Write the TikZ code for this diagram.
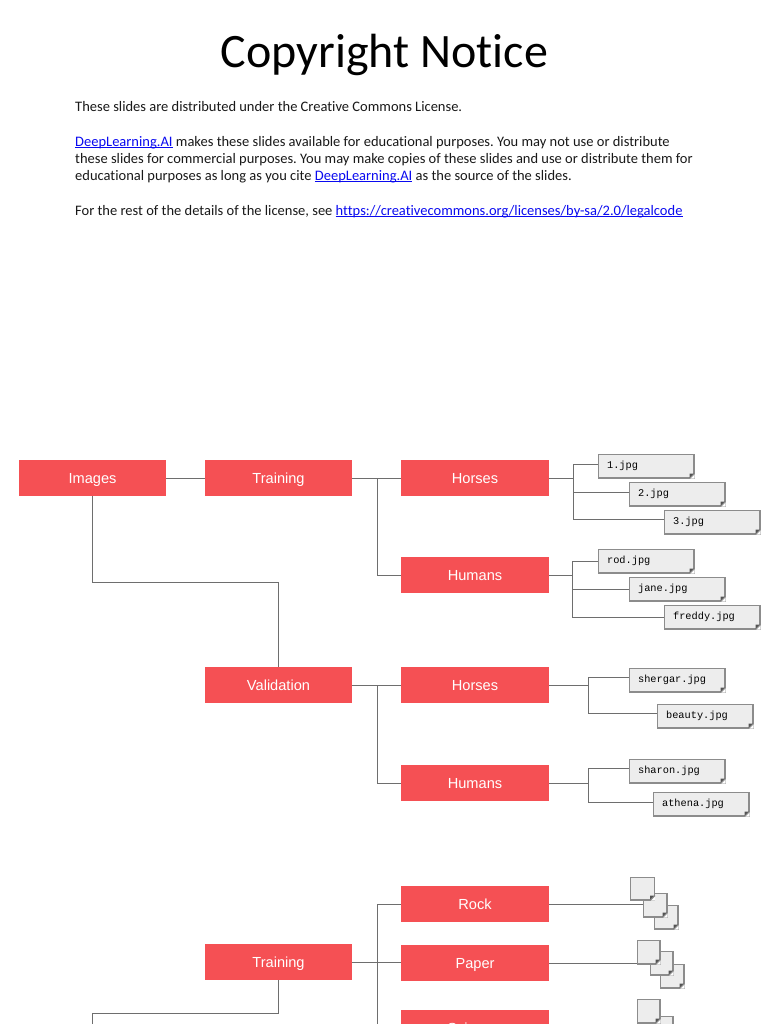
\documentclass[tikz,border=0pt]{standalone}
\usepackage{fontspec}
\setmainfont[Ligatures=NoCommon]{Carlito}
\newfontfamily\lblfont{Liberation Sans}
\newfontfamily\filefont{Liberation Mono}
\definecolor{boxred}{HTML}{F55054}
\definecolor{linegray}{HTML}{6E6E6E}
\definecolor{filefill}{HTML}{EDEDED}
\definecolor{fileedge}{HTML}{8C8C8C}
\definecolor{linkblue}{HTML}{0A0AF0}
\frenchspacing
\newcommand{\lnk}[1]{\textcolor{linkblue}{\setbox0\hbox{#1}\rlap{\rule[-1.5pt]{\wd0}{0.7pt}}\box0}}
\newcommand{\filebox}[6]{%
  \node[filebox, minimum width=#4pt-#2pt-1.1pt, minimum height=#5pt-#3pt-1.1pt, text width=#4pt-#2pt-19.1pt, anchor=north west] (#1) at (#2+0.55,#3+0.55) {\raisebox{2.5pt}{#6}};
  \fill[white] (#1.south east) -- ++(-5pt,0pt) -- ++(5pt,5pt) -- cycle;
  \fill[fileedge!60!black] (#1.south east) ++(-5pt,0pt) -- ++(5pt,5pt) -- ++(-5pt,0pt) -- cycle;
  \draw[fileedge, line width=1pt] (#1.south east) ++(-5pt,0pt) -- ++(5pt,5pt);
}
\tikzset{
  redbox/.style={fill=boxred, draw=none, text=white, font=\lblfont\fontsize{14.6}{16}\selectfont, minimum height=36pt, inner sep=0pt, anchor=center, text height=10.5pt, text depth=0pt},
  wide/.style={minimum width=148pt},
  narrow/.style={minimum width=147pt},
  filebox/.style={fill=filefill, draw=fileedge, line width=1.1pt, inner sep=0pt, inner xsep=8.5pt, align=left, font=\filefont\fontsize{10.3}{12}\selectfont, text=black},
  wire/.style={draw=linegray, line width=0.8pt},
  body/.style={anchor=base west, inner sep=0pt, font=\fontsize{14.5}{17}\selectfont, text=black!90},
}
\begin{document}
\begin{tikzpicture}[x=1pt,y=-1pt]
\useasboundingbox (0,0) rectangle (768,1024);
\clip (0,0) rectangle (768,1024);
\fill[white] (0,0) rectangle (768,1024);
\node[inner sep=0pt, anchor=base, font=\fontsize{48}{52}\selectfont, text=black] (title) at (384.5,68) {Copyright Notice};
\node[body] (l1) at (75,111.5) {These slides are distributed under the Creative Commons License.};
\node[body] (l2) at (75,146.5) {\lnk{DeepLearning.AI} makes these slides available for educational purposes. You may not use or distribute};
\node[body] (l3) at (75,163.5) {these slides for commercial purposes. You may make copies of these slides and use or distribute them for};
\node[body] (l4) at (75,180.5) {educational purposes as long as you cite \lnk{DeepLearning.AI} as the source of the slides.};
\node[body] (l5) at (75,215) {For the rest of the details of the license, see \lnk{https://creativecommons.org/licenses/by-sa/2.0/legalcode}};

\node[redbox, narrow] (images) at (92.5,478) {Images};
\node[redbox, narrow] (train1) at (278.5,478) {Training};
\node[redbox, wide] (horses1) at (475,478) {Horses};
\node[redbox, wide] (humans1) at (475,575) {Humans};
\node[redbox, narrow] (valid) at (278.5,685) {Validation};
\node[redbox, wide] (horses2) at (475,685) {Horses};
\node[redbox, wide] (humans2) at (475,783) {Humans};
\node[redbox, narrow] (train2) at (278.5,962) {Training};
\node[redbox, wide] (rock) at (475,904) {Rock};
\node[redbox, wide] (paper) at (475,963) {Paper};
\node[redbox, wide] (sciss) at (475,1028) {Scissors};

\filebox{f1}{597}{453.5}{694}{478}{1.jpg}
\filebox{f2}{628}{481.5}{725}{506}{2.jpg}
\filebox{f3}{663}{509.5}{760}{534}{3.jpg}
\filebox{f4}{597}{548}{694}{573}{rod.jpg}
\filebox{f5}{628}{576}{725}{601}{jane.jpg}
\filebox{f6}{663}{604}{760}{629}{freddy.jpg}
\filebox{f7}{628}{667}{725}{692}{shergar.jpg}
\filebox{f8}{656}{703}{753}{728}{beauty.jpg}
\filebox{f9}{628}{758}{725}{783}{sharon.jpg}
\filebox{f10}{652}{791}{749}{816}{athena.jpg}

\filebox{r3}{653}{904}{678}{929}{}
\filebox{r2}{642}{892}{667}{917}{}
\filebox{r1}{629.5}{876}{654.5}{900}{}
\filebox{p3}{659}{963}{684}{988}{}
\filebox{p2}{649}{950}{673}{975}{}
\filebox{p1}{636}{939}{660}{964}{}
\filebox{s3}{659}{1032}{684}{1057}{}
\filebox{s2}{649}{1015}{673}{1040}{}
\filebox{s1}{636}{998}{660}{1023}{}

\coordinate (j1) at (377,478);
\coordinate (j2) at (377,685);
\coordinate (j3) at (377,962);
\coordinate (a1) at (573,478);
\coordinate (a2) at (572.5,575);
\coordinate (a3) at (588.5,685);
\coordinate (a4) at (588.5,783);
\coordinate (m1) at (92.5,582);
\coordinate (m2) at (92.5,1013);
\coordinate (m3) at (92.5,1040);

\draw[wire] (images.east) -- (train1.west);
\draw[wire] (images.south) -- (m1) -| (valid.north);
\draw[wire] (train1.east) -- (horses1.west);
\draw[wire] (j1) |- (humans1.west);
\draw[wire] (valid.east) -- (horses2.west);
\draw[wire] (j2) |- (humans2.west);
\draw[wire] (train2.east) -- (paper.west |- train2.east);
\draw[wire] (j3) |- (rock.west);
\draw[wire] (j3) |- (sciss.west);
\draw[wire] (train2.south) |- (m2) -- (m3);

\draw[wire] (horses1.east) -- (a1);
\draw[wire] (a1) |- ([yshift=2pt]f1.west);
\draw[wire] (a1) |- ([yshift=2pt]f2.west);
\draw[wire] (a1) |- ([yshift=2.5pt]f3.west);
\draw[wire] (humans1.east) -- (a2);
\draw[wire] (a2) |- (f4.west);
\draw[wire] (a2) |- (f5.west);
\draw[wire] (a2) |- (f6.west);
\draw[wire] (horses2.east) -- (a3);
\draw[wire] (a3) |- ([yshift=2.5pt]f7.west);
\draw[wire] (a3) |- ([yshift=2.5pt]f8.west);
\draw[wire] (humans2.east) -- (a4);
\draw[wire] (a4) |- ([yshift=2.5pt]f9.west);
\draw[wire] (a4) |- ([yshift=1.5pt]f10.west);
\draw[wire] (rock.east) -- (r2.west |- rock.east);
\draw[wire] (paper.east) -- (p1.west |- paper.east);
\draw[wire] (sciss.east) -- (s2.west |- sciss.east);
\end{tikzpicture}
\end{document}
